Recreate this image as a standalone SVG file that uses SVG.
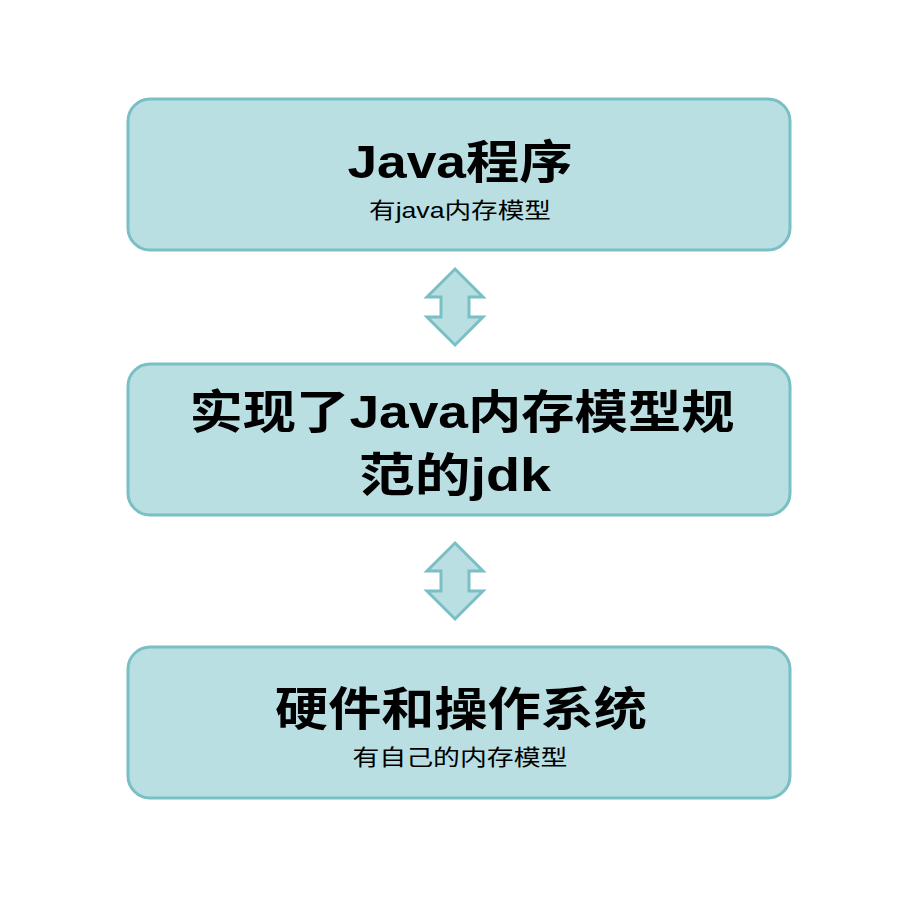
<svg xmlns="http://www.w3.org/2000/svg" width="913" height="898" viewBox="0 0 913 898">
<style>
.box{fill:#b9dfe3;stroke:#79bfc4;stroke-width:3}
.arr{fill:#b9dfe3;stroke:#79bfc4;stroke-width:3;stroke-linejoin:miter}
text{font-family:"Liberation Sans","Noto Sans CJK SC",sans-serif;text-anchor:middle;fill:#000}
.t{font-size:46px;font-weight:bold}
.s{font-size:22px}
</style>
<rect width="913" height="898" fill="#fff"/>
<g id="connectors">
<path class="arr" d="M455,269 L483,297 L469,297 L469,317 L483,317 L455,345 L427,317 L441,317 L441,297 L427,297 Z"/>
<path class="arr" d="M455,543 L483,571 L469,571 L469,591 L483,591 L455,619 L427,591 L441,591 L441,571 L427,571 Z"/>
</g>
<g id="n1"><rect class="box" x="128" y="99" width="662" height="151" rx="22"/>
<text class="t" x="460" y="178" textLength="225" lengthAdjust="spacingAndGlyphs">Java程序</text>
<text class="s" x="460" y="218" textLength="182" lengthAdjust="spacingAndGlyphs">有java内存模型</text></g>
<g id="n2"><rect class="box" x="128" y="364" width="662" height="151" rx="22"/>
<text class="t" x="462" y="428" textLength="545" lengthAdjust="spacingAndGlyphs">实现了Java内存模型规</text>
<text class="t" x="455" y="491" textLength="192" lengthAdjust="spacingAndGlyphs">范的jdk</text></g>
<g id="n3"><rect class="box" x="128" y="647" width="662" height="151" rx="22"/>
<text class="t" x="461" y="725" textLength="372" lengthAdjust="spacingAndGlyphs">硬件和操作系统</text>
<text class="s" x="460" y="765" textLength="215" lengthAdjust="spacingAndGlyphs">有自己的内存模型</text></g>
</svg>
